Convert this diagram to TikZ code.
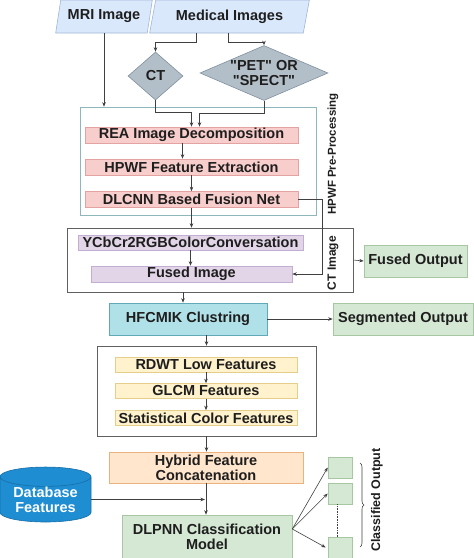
\documentclass[tikz,border=0pt]{standalone}
\usepackage{fontspec}
\setmainfont{Liberation Sans}[Ligatures=TeXOff]
\usetikzlibrary{shapes.geometric,shapes.misc,arrows.meta,decorations.pathreplacing}

\definecolor{txt}{HTML}{1E1E1E}
\definecolor{lin}{HTML}{404040}
\definecolor{para}{HTML}{DAE8FC}
\definecolor{parad}{HTML}{9FB6D6}
\definecolor{dia}{HTML}{B3BFC8}
\definecolor{diad}{HTML}{7F8F9C}
\definecolor{prepd}{HTML}{8DB7BA}
\definecolor{pink}{HTML}{F8CECC}
\definecolor{pinkd}{HTML}{E3A3A3}
\definecolor{lav}{HTML}{E1D5E7}
\definecolor{lavd}{HTML}{C4ADD2}
\definecolor{grn}{HTML}{D5E8D4}
\definecolor{grnd}{HTML}{A7C7A2}
\definecolor{cyn}{HTML}{B1E1E8}
\definecolor{cynd}{HTML}{62A9B8}
\definecolor{yel}{HTML}{FFF2CC}
\definecolor{yeld}{HTML}{E5CD8C}
\definecolor{pch}{HTML}{FFE6CC}
\definecolor{pchd}{HTML}{E9B27F}
\definecolor{dbb}{HTML}{1F8DD2}
\definecolor{dbd}{HTML}{176FA6}
\definecolor{frm}{HTML}{606060}

\begin{document}
\begin{tikzpicture}[x=1pt, y=-1pt,
    font=\bfseries\fontsize{14.5}{15}\selectfont, text=txt,
    blk/.style={draw, inner sep=0pt, align=center, line width=0.6pt},
    para/.style={blk, trapezium, trapezium left angle=72, trapezium right angle=108,
      trapezium stretches=true, minimum height=33, fill=para, draw=parad},
    dec/.style={blk, diamond, fill=dia, draw=diad},
    pinkbox/.style={blk, fill=pink, draw=pinkd, minimum width=213, minimum height=16},
    yelbox/.style={blk, fill=yel, draw=yeld, minimum width=182, minimum height=15},
    outbox/.style={blk, fill=grn, draw=grnd, minimum height=32},
    doc/.style={blk, chamfered rectangle, chamfered rectangle corners=north east,
      chamfered rectangle xsep=5pt, chamfered rectangle ysep=5pt,
      fill=grn, draw=grnd, minimum width=24, minimum height=21},
    arr/.style={draw=lin, line width=0.6pt, -{Stealth[length=4.5pt,width=3.5pt]}},
    lnk/.style={draw=lin, line width=0.6pt},
    side/.style={rotate=90, inner sep=0pt, font=\bfseries\fontsize{12}{12}\selectfont}]
  \useasboundingbox (0,0) rectangle (474,558);

  % Inputs
  \node[para, minimum width=97] (mri) at (104,16.5) {MRI Image};
  \node[para, minimum width=160] (med) at (229.5,16.5) {Medical Images};
  \node[dec, minimum width=55, minimum height=48] (ct) at (155.5,76) {CT};
  \node[dec, shape aspect=2.33, minimum width=128, minimum height=55] (pet) at (264,73)
    {"PET" OR\\"SPECT"};

  % Frames
  \node[blk, draw=prepd, minimum width=236, minimum height=108] (prep) at (198,161) {};
  \node[blk, draw=frm, minimum width=286, minimum height=64] (ctbox) at (210,260) {};
  \node[blk, draw=frm, minimum width=219, minimum height=90] (feat) at (206.5,391) {};

  % Pre-processing
  \node[pinkbox] (rea) at (191.5,135) {REA Image Decomposition};
  \node[pinkbox] (hpwf) at (191.5,167) {HPWF Feature Extraction};
  \node[pinkbox] (dl) at (191.5,199.5) {DLCNN Based Fusion Net};
  \node[side, font=\bfseries\fontsize{11.5}{12}\selectfont] (prelab) at (333,154) {HPWF Pre-Processing};

  % Colour conversion
  \node[blk, fill=lav, draw=lavd, minimum width=225, minimum height=15] (ycb) at (190.5,242.5)
    {YCbCr2RGBColorConversation};
  \node[blk, fill=lav, draw=lavd, minimum width=201, minimum height=16] (fimg) at (191.5,274)
    {Fused Image};
  \node[side] (ctlab) at (333,263) {CT Image};
  \node[outbox, minimum width=103] (fout) at (415.5,261) {Fused Output};

  % Clustering and features
  \node[blk, fill=cyn, draw=cynd, minimum width=158, minimum height=32] (hfc) at (188,319)
    {HFCMIK Clustring};
  \node[outbox, minimum width=140] (seg) at (403,319) {Segmented Output};
  \node[yelbox] (rdwt) at (206,364.5) {RDWT Low Features};
  \node[yelbox] (glcm) at (206,391) {GLCM Features};
  \node[yelbox] (stat) at (206,418) {Statistical Color Features};
  \node[blk, fill=pch, draw=pchd, minimum width=194, minimum height=31] (hyb) at (206,467.5)
    {Hybrid Feature\\Concatenation};

  % Classification
  \node[blk, cylinder, shape border rotate=90, aspect=0.3, fill=dbb, draw=dbd, text=white,
    minimum width=91, minimum height=41] (db) at (45.5,499.5) {Database\\Features};
  \node[outbox, minimum width=170, minimum height=44] (dlp) at (207,537) {DLPNN Classification\\Model};
  \node[doc] (d1) at (340,467.5) {};
  \node[doc] (d2) at (340,493.5) {};
  \node[doc] (d3) at (340,547.5) {};
  \coordinate (bt) at (360,463);
  \coordinate (bb) at (360,547);
  \node[side, font=\bfseries\fontsize{12.5}{13}\selectfont] (clab) at (377,500) {Classified Output};

  % Connectors
  \draw[arr] (mri.south) -- (mri.south |- prep.north);
  \draw[arr] ([xshift=-33pt]med.south) -- ++(0,9) -| (ct.north);
  \draw[arr] ([xshift=-1pt]med.south) -- ++(0,9) -| (pet.north);
  \draw[arr] (ct.south) -- ++(0,12) -| (rea.north);
  \draw[arr] (pet.south) -- ++(0,12) -| ([xshift=8pt]rea.north);
  \draw[arr] ([xshift=-9pt]rea.south) -- ([xshift=-9pt]hpwf.north);
  \draw[arr] (hpwf.south) -- (dl.north);
  \draw[arr] (dl.south) -- (dl.south |- ctbox.north);
  \draw[arr] (dl.east) -- ++(24,0) |- (fimg.east);
  \draw[arr] (ycb.south) -- (ycb.south |- fimg.north);
  \draw[arr] (ctbox.east) -- (fout.west);
  \draw[arr] ([xshift=-5pt]hfc.north |- ctbox.south) -- ([xshift=-5pt]hfc.north);
  \draw[arr] (hfc.east) -- (seg.west);
  \draw[arr] (hfc.south -| feat.north) -- (feat.north);
  \draw[arr] (rdwt.south) -- (glcm.north);
  \draw[arr] (glcm.south) -- (stat.north);
  \draw[arr] (feat.south) -- (feat.south |- hyb.north);
  \draw[arr] (hyb.south) -- (hyb.south |- dlp.north);
  \draw[arr] (db.east) -- ([xshift=-1pt]db.east -| hyb.south);
  \draw[arr] ([yshift=8pt]dlp.east) -- (d1.west);
  \draw[arr] ([yshift=8pt]dlp.east) -- (d2.west);
  \draw[arr] ([yshift=8pt]dlp.east) -- ([xshift=-2pt]d3.west);
  \draw[lnk, densely dotted] ([xshift=-3pt]d2.south) -- ([xshift=-3pt]d3.north);
  \draw[lnk, decorate, decoration={brace, amplitude=4pt}] (bt) -- (bb);
\end{tikzpicture}
\end{document}
